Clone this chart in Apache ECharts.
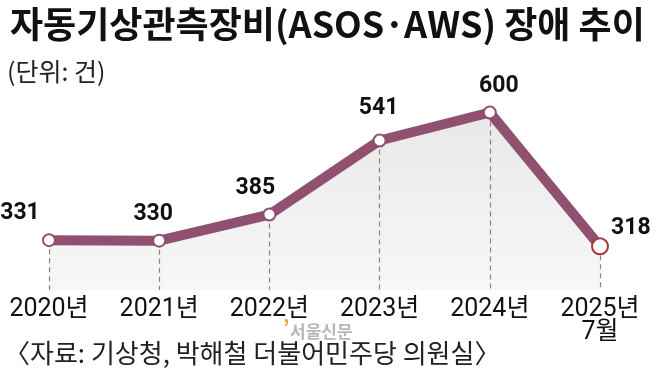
<!DOCTYPE html>
<html>
<head>
<meta charset="utf-8">
<script src="https://cdn.jsdelivr.net/npm/echarts@6/dist/echarts.min.js"></script>
<style>
  html, body { margin: 0; padding: 0; background: #fff; }
  #box { width: 658px; height: 378px; }
</style>
</head>
<body>
<div id="box"></div>
<script>
// 데이터
var categories = ['2020년', '2021년', '2022년', '2023년', '2024년', '2025년\n7월'];
var values = [331, 330, 385, 541, 600, 318];

// 라벨 위치(스타일)
var labelOffsets = [[-29, 0], [-6, 0], [-14, 0], [-1, -6], [9, 0], [-4, -18]];

var myChart = echarts.init(document.getElementById('box'));

var numFont = 'Roboto, "Noto Sans CJK KR", sans-serif';
var mauve = '#905070';

var pointData = values.map(function (v, i) {
  var last = i === values.length - 1;
  return {
    value: v,
    symbolSize: last ? 16 : 12,
    itemStyle: last ? { color: '#fff', borderColor: '#a8343c', borderWidth: 2 } : undefined,
    label: {
      position: last ? 'right' : 'top',
      distance: last ? 6 : 8,
      offset: labelOffsets[i]
    }
  };
});

var option = {
  animation: false,
  title: {
    text: '자동기상관측장비(ASOS·AWS) 장애 추이',
    left: 5,
    top: 1,
    textStyle: {
      fontFamily: '"Noto Sans CJK KR", sans-serif',
      fontWeight: 'bold',
      fontSize: 36,
      color: '#111'
    }
  },
  grid: { left: 49, right: 58, top: 103, bottom: 88 },
  xAxis: {
    type: 'category',
    boundaryGap: false,
    data: categories,
    axisLine: { show: false },
    axisTick: { show: false },
    axisLabel: {
      interval: 0,
      margin: 8,
      fontFamily: numFont,
      fontSize: 25,
      lineHeight: 23,
      color: '#111'
    }
  },
  yAxis: {
    type: 'value',
    min: 226,
    max: 620,
    show: false
  },
  series: [
    { // 면적
      type: 'line',
      data: values,
      z: 1,
      symbol: 'none',
      lineStyle: { width: 0 },
      areaStyle: {
        origin: 'start',
        color: new echarts.graphic.LinearGradient(0, 0, 0, 1, [
          { offset: 0, color: '#dedede' },
          { offset: 1, color: '#f3f3f3' }
        ])
      },
      silent: true
    },
    { // 꺾은선
      type: 'line',
      data: pointData,
      z: 3,
      symbol: 'circle',
      itemStyle: { color: '#fff', borderColor: mauve, borderWidth: 2 },
      lineStyle: { color: mauve, width: 10 },
      label: {
        show: true,
        fontFamily: numFont,
        fontWeight: 'bold',
        fontSize: 23,
        color: '#111'
      },
      markLine: {
        z: 2,
        silent: true,
        symbol: 'none',
        label: { show: false },
        lineStyle: { color: '#9b7b6b', type: [5, 4], width: 1.2 },
        data: values.map(function (v, i) {
          return [{ coord: [i, v] }, { coord: [i, 226] }];
        })
      }
    }
  ],
  graphic: [
    {
      type: 'text', left: 7, top: 59,
      style: { text: '(단위: 건)', font: '25px "Noto Sans CJK KR"', fill: '#222' }
    },
    {
      type: 'text', left: 4, top: 340,
      style: { text: '〈자료: 기상청, 박해철 더불어민주당 의원실〉', font: '26px "Noto Sans CJK KR"', fill: '#222' }
    },
    {
      type: 'text', left: 283, top: 317,
      style: { text: '’', font: 'bold 20px "Noto Sans CJK KR"', fill: '#f0a040' }
    },
    {
      type: 'text', left: 290, top: 323,
      style: { text: '서울신문', font: 'bold 17px "Noto Sans CJK KR"', fill: '#b8b8b8' }
    }
  ]
};

myChart.setOption(option);
</script>
</body>
</html>
